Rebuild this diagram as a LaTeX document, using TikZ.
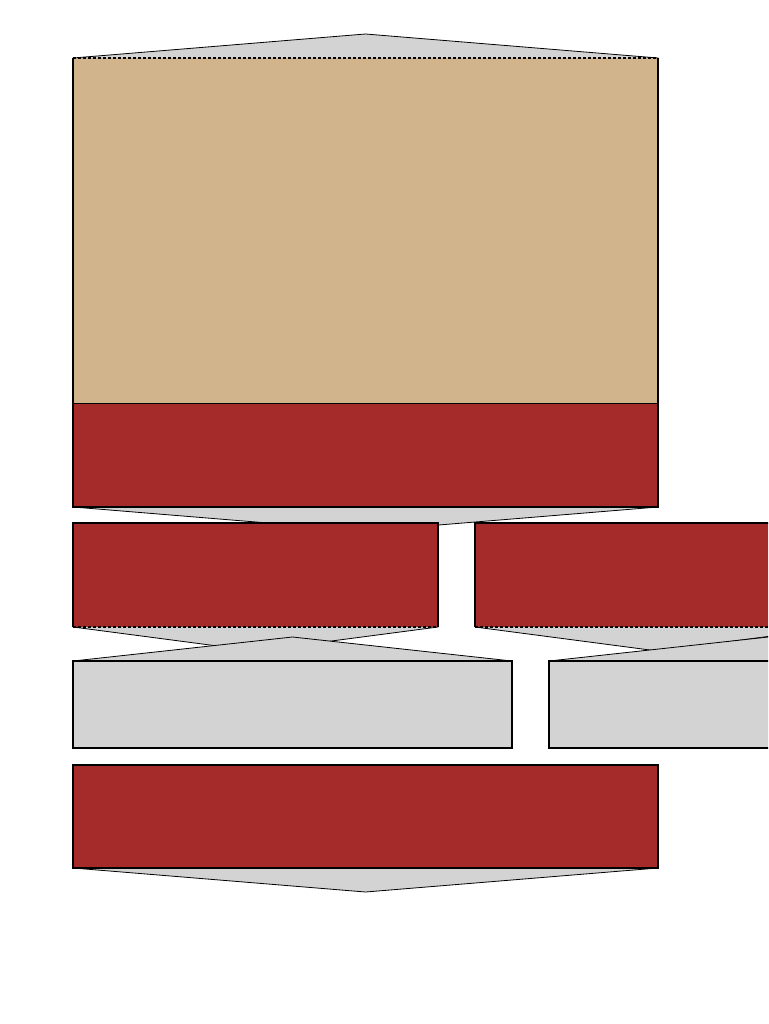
\documentclass[tikz,border=0pt]{standalone}
\usetikzlibrary{calc}
\definecolor{tanc}{HTML}{D2B48C}
\definecolor{redc}{HTML}{A52A2A}
\definecolor{grayc}{HTML}{D3D3D3}
\begin{document}
\begin{tikzpicture}[x=1pt,y=-1pt,
  blk/.style={draw=none, inner sep=0pt, outer sep=0pt, anchor=north west},
  tri/.style={fill=grayc, draw=black, line width=0.8pt, line join=round},
  edge/.style={draw=black, line width=1.2pt},
  dedge/.style={draw=black, line width=1.1pt, dash pattern=on 3pt off 2pt}]
\useasboundingbox (0,0) rectangle (768,1024);
\clip (0,0) rectangle (768,1024);
% ---- top block ----
\node[blk, fill=tanc, minimum width=585pt, minimum height=345pt] (tan) at (73,58) {};
\node[blk, fill=redc, minimum width=585pt, minimum height=104pt] (band) at (73,403) {};
\coordinate (topapex) at (365.5,34);
\coordinate (botapex) at (365.5,531);
\path[tri] (tan.north west) -- (topapex) -- (tan.north east);
\path[tri] (band.south west) -- (botapex) -- (band.south east);
\path[dedge] (tan.north west) -- (tan.north east);
\path[edge] (tan.north west) -- (band.south west) -- (band.south east) -- (tan.north east);
\path[edge, line width=0.8pt] (band.north west) -- (band.north east);
% ---- second row red boxes ----
\node[blk, fill=redc, minimum width=365pt, minimum height=104pt] (L1) at (73,523) {};
\node[blk, fill=redc, minimum width=365pt, minimum height=104pt] (R1) at (475,523) {};
\path[edge] (L1.south west) -- (L1.north west) -- (L1.north east) -- (L1.south east);
\path[edge] (R1.south west) -- (R1.north west) -- (R1.north east) -- (R1.south east);
\coordinate (L1apex) at (255.5,651);
\coordinate (R1apex) at (657.5,651);
\path[tri] (L1.south west) -- (L1apex) -- (L1.south east);
\path[tri] (R1.south west) -- (R1apex) -- (R1.south east);
\path[dedge] (L1.south west) -- (L1.south east);
\path[dedge] (R1.south west) -- (R1.south east);
% ---- third row gray boxes ----
\node[blk, fill=grayc, minimum width=439pt, minimum height=87pt] (L2) at (73,661) {};
\node[blk, fill=grayc, minimum width=439pt, minimum height=87pt] (R2) at (549,661) {};
\coordinate (L2apex) at (292.5,637);
\coordinate (R2apex) at (768.5,637);
\path[tri] (L2.north west) -- (L2apex) -- (L2.north east);
\path[tri] (R2.north west) -- (R2apex) -- (R2.north east);
\path[edge] (L2.north west) rectangle (L2.south east);
\path[edge] (R2.north west) rectangle (R2.south east);
% ---- bottom red box ----
\node[blk, fill=redc, minimum width=585pt, minimum height=103pt] (B) at (73,765) {};
\coordinate (Bapex) at (365.5,892);
\path[tri] (B.south west) -- (Bapex) -- (B.south east);
\path[edge] (B.north west) rectangle (B.south east);
\end{tikzpicture}
\end{document}
